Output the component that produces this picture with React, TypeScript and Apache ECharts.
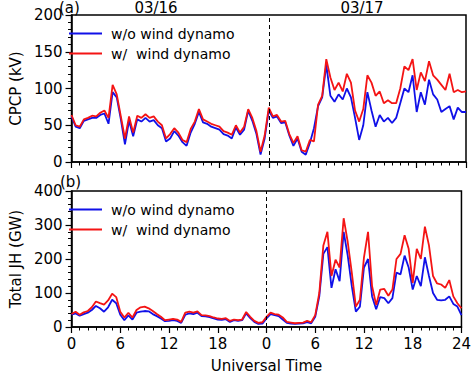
import React, { useEffect, useRef } from "react";
import * as echarts from "echarts";

// time grid (hours from 03/16 00 UT), 30-min steps
const hours: number[] = Array.from({ length: 97 }, (_, i) => i * 0.5);
const xTickLabels = ["0", "6", "12", "18", "0", "6", "12", "18", "24"];
const seriesNames = ["w/o wind dynamo", "w/  wind dynamo"];

// CPCP (kV)
const cpcpWithout: number[] = [
  62, 48, 46, 56, 58, 60, 60, 64, 66, 52, 95, 88, 58, 24, 56, 35, 58, 55, 60, 55, 57, 50, 46, 28, 32,
  42, 36, 27, 22, 40, 52, 68, 54, 52, 48, 46, 44, 38, 36, 32, 47, 37, 44, 70, 56, 38, 10, 32, 70,
  60, 62, 53, 54, 36, 22, 32, 14, 10, 26, 46, 76, 88, 132, 90, 82, 92, 85, 100, 88, 60, 30, 50, 95,
  70, 48, 64, 55, 60, 53, 60, 80, 100, 95, 118, 68, 95, 78, 112, 92, 85, 68, 72, 76, 58, 74, 68, 68,
];
const cpcpWith: number[] = [
  64, 50, 48, 58, 60, 63, 62, 67, 70, 60, 105, 92, 62, 32, 62, 40, 63, 60, 65, 60, 62, 55, 50, 32, 38,
  46, 40, 30, 27, 45, 55, 72, 58, 55, 52, 50, 48, 42, 40, 37, 50, 40, 48, 72, 60, 42, 14, 36, 74,
  62, 64, 55, 56, 38, 26, 35, 16, 14, 30, 28, 78, 90, 140, 115, 98, 108, 96, 120, 108, 70, 55, 72, 118,
  108, 90, 96, 80, 84, 80, 80, 100, 130, 125, 140, 98, 122, 110, 137, 118, 112, 105, 98, 120, 95, 98, 95, 96,
];

// Total Joule heating (GW)
const jhWithout: number[] = [
  36, 40, 33, 38, 42, 50, 62, 55, 45, 58, 80, 70, 36, 20, 34, 22, 42, 45, 47, 46, 38, 32, 25, 17, 18,
  20, 18, 12, 36, 40, 38, 42, 32, 31, 29, 25, 22, 21, 23, 15, 20, 18, 20, 40, 26, 15, 9, 10, 25,
  38, 35, 32, 22, 12, 10, 9, 10, 11, 14, 11, 30, 90, 215, 235, 115, 170, 135, 280, 210, 120, 45, 60, 175,
  200, 90, 52, 88, 85, 70, 85, 160, 155, 210, 175, 110, 150, 120, 205, 150, 100, 80, 78, 80, 90, 68, 60, 35,
];
const jhWith: number[] = [
  38, 45, 36, 43, 47, 58, 75, 70, 66, 78, 98, 88, 45, 28, 42, 28, 50, 58, 60, 55, 47, 38, 30, 20, 22,
  24, 22, 15, 42, 45, 42, 46, 35, 34, 32, 28, 25, 24, 26, 18, 22, 20, 22, 44, 30, 18, 12, 14, 30,
  42, 38, 36, 28, 15, 13, 11, 12, 13, 18, 14, 35, 100, 240, 280, 150, 198, 175, 320, 250, 160, 60, 80, 205,
  280, 120, 65, 110, 112, 92, 110, 200, 215, 270, 230, 130, 230, 200, 295, 240, 150, 128, 125, 115, 138, 90, 70, 55,
];

const FONT = "DejaVu Sans";
const BLUE = "#1010e8";
const RED = "#f41414";

function pairs(vals: number[]) {
  return hours.map((t, i) => [t, vals[i]]);
}

export default function App() {
  const ref = useRef<HTMLDivElement>(null);
  useEffect(() => {
    if (!ref.current) return;
    const chart = echarts.init(ref.current, null, { renderer: "svg" });
    const axisCommon = {
      axisLine: { show: true, lineStyle: { color: "#000", width: 1.5 } },
      axisTick: { show: true, length: 6, lineStyle: { color: "#000", width: 1.2 } },
      minorTick: { show: true, length: 3.5, lineStyle: { color: "#000", width: 1 } },
      splitLine: { show: false },
      minorSplitLine: { show: false },
    };
    const xAxisBase = (gridIndex: number, showLabels: boolean) => ({
      type: "value",
      gridIndex,
      min: 0,
      max: 48,
      interval: 6,
      ...axisCommon,
      minorTick: { ...axisCommon.minorTick, splitNumber: 6 },
      axisLabel: {
        show: showLabels,
        color: "#000",
        fontFamily: FONT,
        fontSize: 15,
        margin: 9,
        formatter: (v: number) => xTickLabels[Math.round(v / 6)],
      },
      name: showLabels ? "Universal Time" : "",
      nameLocation: "middle",
      nameGap: 31,
      nameTextStyle: { color: "#000", fontFamily: FONT, fontSize: 15 },
    });
    const yAxisBase = (gridIndex: number, max: number, interval: number, name: string) => ({
      type: "value",
      gridIndex,
      min: 0,
      max,
      interval,
      ...axisCommon,
      minorTick: { ...axisCommon.minorTick, splitNumber: 5 },
      axisLabel: { color: "#000", fontFamily: FONT, fontSize: 15, margin: 9 },
      name,
      nameLocation: "middle",
      nameGap: 43,
      nameTextStyle: { color: "#000", fontFamily: FONT, fontSize: 15 },
    });
    const dash = {
      silent: true,
      symbol: ["none", "none"],
      label: { show: false },
      lineStyle: { color: "#000", type: [4, 3], width: 1 },
      data: [{ xAxis: 24 }],
    };
    const line = (name: string, vals: number[], color: string, idx: number, withMark: boolean) => ({
      name,
      type: "line",
      xAxisIndex: idx,
      yAxisIndex: idx,
      data: pairs(vals),
      showSymbol: false,
      symbol: "none",
      lineStyle: { color, width: 1.8 },
      itemStyle: { color },
      markLine: withMark ? dash : undefined,
    });
    const legendBase = (top: number) => ({
      data: seriesNames,
      orient: "vertical",
      left: 64,
      top,
      icon: "rect",
      itemWidth: 33,
      itemHeight: 2,
      itemGap: 5,
      selectedMode: false,
      textStyle: { color: "#000", fontFamily: FONT, fontSize: 14, lineHeight: 15, padding: [0, 0, 0, 4] },
    });
    const txt = (text: string, x: number, y: number, align: string) => ({
      type: "text",
      x,
      y,
      style: { text, fill: "#000", font: `15px "${FONT}"`, textAlign: align, textVerticalAlign: "middle" },
    });
    chart.setOption({
      animation: false,
      backgroundColor: "#fff",
      grid: [
        { left: 52, right: 8, top: 15, height: 147, show: true, borderColor: "#000", borderWidth: 1.5, backgroundColor: "transparent" },
        { left: 52, right: 8, top: 191, height: 146, show: true, borderColor: "#000", borderWidth: 1.5, backgroundColor: "transparent" },
      ],
      xAxis: [xAxisBase(0, false), xAxisBase(1, true)],
      yAxis: [yAxisBase(0, 200, 50, "CPCP (kV)"), yAxisBase(1, 400, 100, "Total JH (GW)")],
      legend: [legendBase(21), legendBase(197)],
      series: [
        line(seriesNames[0], cpcpWithout, BLUE, 0, true),
        line(seriesNames[1], cpcpWith, RED, 0, false),
        line(seriesNames[0], jhWithout, BLUE, 1, true),
        line(seriesNames[1], jhWith, RED, 1, false),
      ],
      graphic: [
        txt("(a)", 59, 7.5, "left"),
        txt("03/16", 156, 7.5, "center"),
        txt("03/17", 362, 7.5, "center"),
        txt("(b)", 60, 182, "left"),
      ],
    });
    return () => chart.dispose();
  }, []);
  return (
    <div
      ref={ref}
      style={{ position: "fixed", left: 0, top: 0, width: 474, height: 374, background: "#fff" }}
    />
  );
}
